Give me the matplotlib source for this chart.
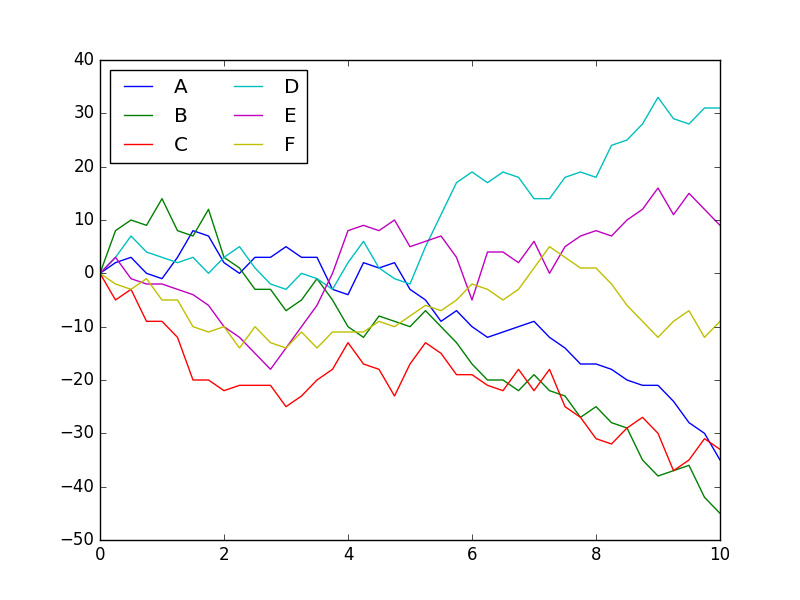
import matplotlib
matplotlib.use("Agg")
import matplotlib.pyplot as plt
import numpy as np

plt.style.use('classic')

x = np.linspace(0, 10, 41)
A = [0,2,3,0,-1,3,8,7,2,0,3,3,5,3,3,-3,-4,2,1,2,-3,-5,-9,-7,-10,-12,-11,-10,-9,-12,-14,-17,-17,-18,-20,-21,-21,-24,-28,-30,-35]
B = [0,8,10,9,14,8,7,12,3,1,-3,-3,-7,-5,-1,-5,-10,-12,-8,-9,-10,-7,-10,-13,-17,-20,-20,-22,-19,-22,-23,-27,-25,-28,-29,-35,-38,-37,-36,-42,-45]
C = [0,-5,-3,-9,-9,-12,-20,-20,-22,-21,-21,-21,-25,-23,-20,-18,-13,-17,-18,-23,-17,-13,-15,-19,-19,-21,-22,-18,-22,-18,-25,-27,-31,-32,-29,-27,-30,-37,-35,-31,-33]
D = [0,3,7,4,3,2,3,0,3,5,1,-2,-3,0,-1,-3,2,6,1,-1,-2,5,11,17,19,17,19,18,14,14,18,19,18,24,25,28,33,29,28,31,31]
E = [0,3,-1,-2,-2,-3,-4,-6,-10,-12,-15,-18,-14,-10,-6,0,8,9,8,10,5,6,7,3,-5,4,4,2,6,0,5,7,8,7,10,12,16,11,15,12,9]
F = [0,-2,-3,-1,-5,-5,-10,-11,-10,-14,-10,-13,-14,-11,-14,-11,-11,-11,-9,-10,-8,-6,-7,-5,-2,-3,-5,-3,1,5,3,1,1,-2,-6,-9,-12,-9,-7,-12,-9]
labels = ['A', 'B', 'C', 'D', 'E', 'F']

fig, ax = plt.subplots(figsize=(8, 6), dpi=100)
for s, lab in zip([A, B, C, D, E, F], labels):
    ax.plot(x, s, label=lab)
ax.set_xlim(0, 10)
ax.set_ylim(-50, 40)
ax.legend(ncol=2, loc='upper left')
fig.savefig('out.png')
